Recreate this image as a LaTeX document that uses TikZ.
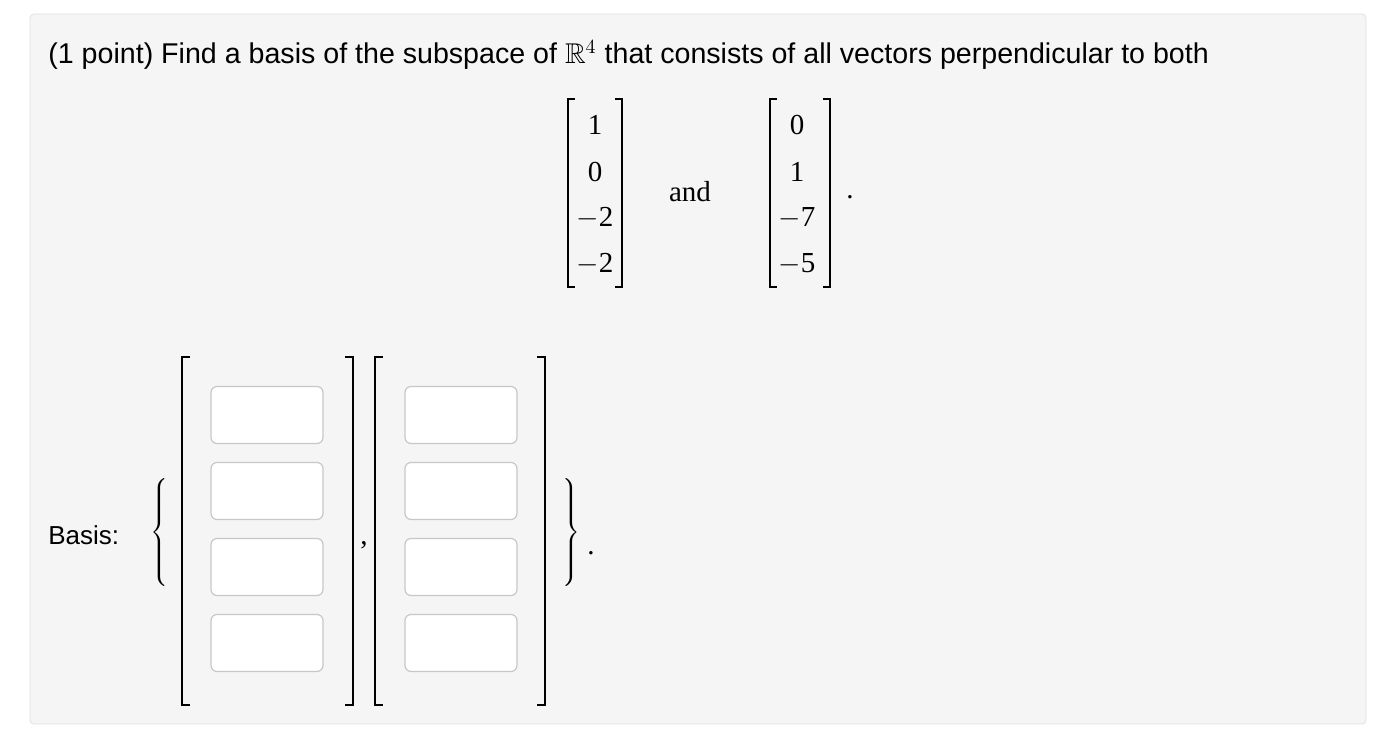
\documentclass[tikz,border=0pt]{standalone}
\usepackage{fontspec}
\setmainfont{Liberation Serif}
\newfontfamily\sansf{Liberation Sans}
\usepackage{amssymb}
\begin{document}
\begin{tikzpicture}[x=0.5pt,y=-0.5pt,
  brk/.style={line width=1pt,black},
  ibox/.style={draw=black!22,fill=white,rounded corners=3pt,line width=0.6pt,minimum width=56pt,minimum height=28.5pt,inner sep=0},
  ent/.style={font=\fontsize{14.5}{14.5}\selectfont,inner sep=0}]
\useasboundingbox (0,0) rectangle (1377,731);
\fill[white] (0,0) rectangle (1377,731);
\draw[black!12,fill=black!4,rounded corners=2pt] (30,14) rectangle (1366,724);
\node[anchor=base west,inner sep=0,font=\sansf\fontsize{14.3}{15}\selectfont] (q) at (48,64)
 {(1 point) Find a basis of the subspace of $\mathbb{R}^4$ that consists of all vectors perpendicular to both};
% first vector
\draw[brk] (575,99) -- (568,99) -- (568,287) -- (575,287);
\draw[brk] (615,99) -- (622,99) -- (622,287) -- (615,287);
\node[ent] (a1) at (595,125) {1};
\node[ent] (a2) at (595,172) {0};
\node[ent] (a3) at (595,218) {$-$2};
\node[ent] (a4) at (595,264) {$-$2};
\node[ent] (and) at (690,192) {and};
\draw[brk] (777,99) -- (770,99) -- (770,287) -- (777,287);
\draw[brk] (823,99) -- (830,99) -- (830,287) -- (823,287);
\node[ent] (b1) at (797,125) {0};
\node[ent] (b2) at (797,172) {1};
\node[ent] (b3) at (797,218) {$-$7};
\node[ent] (b4) at (797,264) {$-$5};
\node[ent] (dot1) at (850,197) {.};
% basis
\node[anchor=base west,inner sep=0,font=\sansf\fontsize{13}{13}\selectfont] (bl) at (48,545) {Basis:};
\node[inner sep=0] (lb) at (161,535) {$\left\{\vrule height 27pt depth 27pt width 0pt\right.$};
\draw[brk] (190,357) -- (182,357) -- (182,705) -- (190,705);
\draw[brk] (345,357) -- (353,357) -- (353,705) -- (345,705);
\draw[brk] (383,357) -- (375,357) -- (375,705) -- (383,705);
\draw[brk] (537,357) -- (545,357) -- (545,705) -- (537,705);
\foreach \y [count=\i] in {415,491,567,643}{
  \node[ibox] (u\i) at (267,\y) {};
  \node[ibox] (v\i) at (461,\y) {};
}
\node[ent] (cm) at (364,545) {,};
\node[inner sep=0] (rb) at (570,535) {$\left.\vrule height 27pt depth 27pt width 0pt\right\}$};
\node[ent] (dot2) at (591,553) {.};
\end{tikzpicture}
\end{document}
